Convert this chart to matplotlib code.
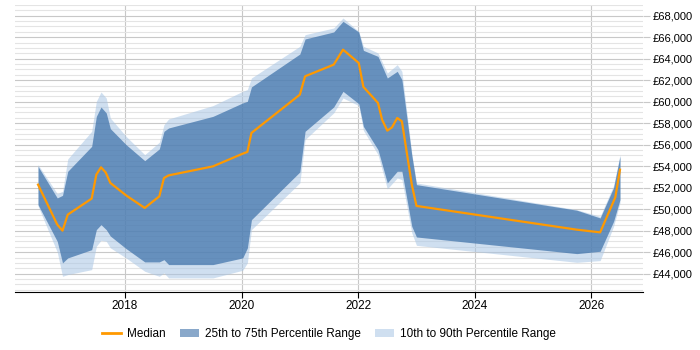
import matplotlib
matplotlib.use('Agg')
import matplotlib.pyplot as plt
from matplotlib.ticker import MultipleLocator, FuncFormatter
from matplotlib.patches import Patch
from matplotlib.lines import Line2D

plt.rcParams['font.family'] = ['Liberation Sans', 'DejaVu Sans']

# median salary
med_x = [2016.51, 2016.84, 2016.93, 2017.02, 2017.43, 2017.51, 2017.59, 2017.67, 2017.75,
         2018.02, 2018.34, 2018.59, 2018.67, 2018.75, 2019.51, 2020.02, 2020.10, 2020.17,
         2021.00, 2021.09, 2021.58, 2021.74, 2022.01, 2022.09, 2022.34, 2022.41, 2022.50,
         2022.58, 2022.67, 2022.75, 2022.92, 2023.00, 2025.75, 2026.15, 2026.41, 2026.49]
median = [52280, 48560, 48000, 49490, 50980, 53210, 53890, 53420, 52440,
          51280, 50110, 51190, 52900, 53140, 53980, 55160, 55320, 57090,
          60650, 62360, 63440, 64840, 63600, 61370, 59880, 58330, 57300,
          57610, 58480, 58170, 52280, 50300, 48090, 47840, 51100, 53670]

# percentile bands share one set of dates
band_x = [2016.51, 2016.84, 2016.93, 2017.02, 2017.43, 2017.51, 2017.59, 2017.68, 2017.75,
          2018.02, 2018.34, 2018.59, 2018.67, 2018.75, 2019.51, 2020.02, 2020.10, 2020.17,
          2021.00, 2021.09, 2021.58, 2021.74, 2022.01, 2022.09, 2022.34, 2022.50, 2022.67,
          2022.75, 2022.92, 2023.00, 2025.75, 2026.15, 2026.38, 2026.49]
p75 = [53980, 51040, 51280, 53520, 55840, 58630, 59500, 58950, 57490,
       56000, 54510, 55600, 57240, 57550, 58630, 59880, 60030, 61370,
       64430, 65830, 66480, 67470, 66480, 64770, 64210, 62200, 62820,
       62050, 55000, 52280, 49900, 49180, 52000, 54910]
p25 = [50420, 47000, 45000, 45460, 46230, 48090, 48560, 48090, 47500,
       46330, 45090, 45090, 45300, 44840, 44840, 45460, 46390, 49020,
       53460, 57240, 59500, 60960, 59810, 57700, 55530, 52440, 53520,
       53520, 48400, 47410, 45860, 46080, 48860, 50880]
p90 = [54140, 51440, 51660, 54670, 57240, 60030, 60900, 60340, 58480,
       56770, 55070, 56220, 57860, 58390, 59630, 60960, 61120, 62200,
       65150, 66230, 66850, 67780, 66540, 65150, 64530, 62670, 63440,
       62820, 55200, 52440, 49950, 49330, 52200, 55070]
p10 = [50300, 46000, 43750, 43910, 44370, 46540, 47100, 47010, 46400,
       45460, 44220, 43750, 44060, 43600, 43600, 44310, 45000, 48090,
       52440, 56470, 58950, 60340, 59630, 57330, 55070, 51880, 52900,
       52740, 47790, 46630, 45050, 45210, 48400, 50580]

fig = plt.figure(figsize=(7, 3.5), dpi=100)
ax = fig.add_axes([0.021, 0.166, 0.898, 0.820])

ax.fill_between(band_x, p10, p90, color='#a9c6e4', alpha=0.55, linewidth=0, zorder=2)
ax.fill_between(band_x, p25, p75, color='#3a6fa8', alpha=0.7, linewidth=0, zorder=3)
ax.plot(med_x, median, color='#ff9900', linewidth=1.6, zorder=4)

ax.set_xlim(2016.11, 2026.89)
ax.set_ylim(42300, 69000)
ax.xaxis.set_major_locator(MultipleLocator(2))
ax.xaxis.set_major_formatter(FuncFormatter(lambda v, p: '%d' % v))
ax.yaxis.set_major_locator(MultipleLocator(2000))
ax.yaxis.set_minor_locator(MultipleLocator(500))
ax.yaxis.set_major_formatter(FuncFormatter(lambda v, p: '£{:,.0f}'.format(v)))
ax.yaxis.tick_right()

ax.grid(axis='y', which='major', color='#c8c8c8', linewidth=0.8, zorder=1)
ax.grid(axis='y', which='minor', color='#e4e4e4', linewidth=0.8, zorder=1)
ax.grid(axis='x', which='major', color='#c8c8c8', linewidth=0.8, zorder=1)

for s in ['top', 'left', 'right']:
    ax.spines[s].set_visible(False)
ax.spines['bottom'].set_color('black')
ax.tick_params(axis='y', which='major', length=5, color='#c8c8c8', labelsize=8, pad=2)
ax.tick_params(axis='y', which='minor', length=0)
ax.tick_params(axis='x', length=4, color='black', labelsize=8.5, pad=2)

handles = [Line2D([], [], color='#ff9900', linewidth=2),
           Patch(facecolor='#3a6fa8', alpha=0.6, edgecolor='none'),
           Patch(facecolor='#a9c6e4', alpha=0.55, edgecolor='none')]
labels = ['Median', '25th to 75th Percentile Range', '10th to 90th Percentile Range']
fig.legend(handles, labels, loc='center', bbox_to_anchor=(0.47, 0.045), ncol=3,
           frameon=False, fontsize=8.5, handlelength=1.6, columnspacing=1.2, handletextpad=0.5)

fig.savefig('out.png', dpi=100)
